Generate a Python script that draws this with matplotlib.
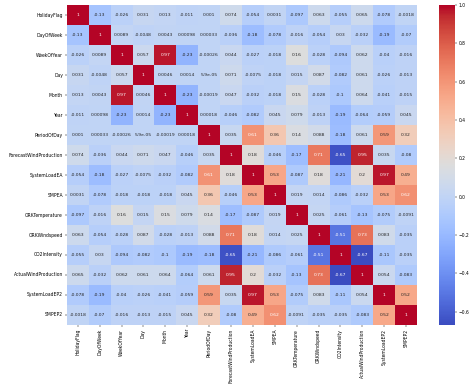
import numpy as np
import pandas as pd
import matplotlib
matplotlib.use("Agg")
import matplotlib.pyplot as plt
import seaborn as sns

# Noms des variables
cols = ["HolidayFlag", "DayOfWeek", "WeekOfYear", "Day", "Month", "Year",
        "PeriodOfDay", "ForecastWindProduction", "SystemLoadEA", "SMPEA",
        "ORKTemperature", "ORKWindspeed", "CO2Intensity",
        "ActualWindProduction", "SystemLoadEP2", "SMPEP2"]

# Matrice de corrélation
corr_values = [
    [1, -0.13, -0.026, 0.031, 0.013, -0.011, 0.001, 0.074, -0.054, 0.0031, -0.097, 0.063, -0.055, 0.065, -0.078, -0.0018],
    [-0.13, 1, 0.0089, -0.0048, 0.0043, 0.00098, 0.00033, -0.036, -0.18, -0.078, -0.016, -0.054, 0.03, -0.032, -0.19, -0.07],
    [-0.026, 0.0089, 1, 0.057, 0.97, -0.23, -0.00026, 0.044, -0.027, -0.018, 0.16, -0.028, -0.094, 0.062, -0.04, -0.016],
    [0.031, -0.0048, 0.057, 1, 0.0046, 0.0014, 5.9e-05, 0.071, -0.0075, -0.018, 0.015, 0.087, -0.082, 0.061, -0.026, -0.013],
    [0.013, 0.0043, 0.97, 0.0046, 1, -0.23, -0.00019, 0.047, -0.032, -0.018, 0.15, -0.028, -0.1, 0.064, -0.041, -0.015],
    [-0.011, 0.00098, -0.23, 0.0014, -0.23, 1, 0.00018, -0.046, -0.082, 0.045, 0.079, -0.013, -0.19, -0.064, -0.059, 0.045],
    [0.001, 0.00033, -0.00026, 5.9e-05, -0.00019, 0.00018, 1, 0.035, 0.61, 0.36, 0.14, 0.088, -0.18, 0.061, 0.59, 0.32],
    [0.074, -0.036, 0.044, 0.071, 0.047, -0.046, 0.035, 1, 0.18, -0.046, -0.17, 0.71, -0.65, 0.95, 0.035, -0.08],
    [-0.054, -0.18, -0.027, -0.0075, -0.032, -0.082, 0.61, 0.18, 1, 0.53, -0.087, 0.18, -0.21, 0.2, 0.97, 0.49],
    [0.0031, -0.078, -0.018, -0.018, -0.018, 0.045, 0.36, -0.046, 0.53, 1, 0.019, 0.014, -0.086, -0.032, 0.53, 0.62],
    [-0.097, -0.016, 0.16, 0.015, 0.15, 0.079, 0.14, -0.17, -0.087, 0.019, 1, 0.025, -0.061, -0.13, -0.075, -0.0091],
    [0.063, -0.054, -0.028, 0.087, -0.028, -0.013, 0.088, 0.71, 0.18, 0.014, 0.025, 1, -0.51, 0.73, 0.083, -0.035],
    [-0.055, 0.03, -0.094, -0.082, -0.1, -0.19, -0.18, -0.65, -0.21, -0.086, -0.061, -0.51, 1, -0.67, -0.11, -0.035],
    [0.065, -0.032, 0.062, 0.061, 0.064, -0.064, 0.061, 0.95, 0.2, -0.032, -0.13, 0.73, -0.67, 1, 0.054, -0.083],
    [-0.078, -0.19, -0.04, -0.026, -0.041, -0.059, 0.59, 0.035, 0.97, 0.53, -0.075, 0.083, -0.11, 0.054, 1, 0.52],
    [-0.0018, -0.07, -0.016, -0.013, -0.015, 0.045, 0.32, -0.08, 0.49, 0.62, -0.0091, -0.035, -0.035, -0.083, 0.52, 1],
]

corr = pd.DataFrame(np.array(corr_values), index=cols, columns=cols)

fig = plt.figure(figsize=(474 / 40, 392 / 40), dpi=40)
ax = fig.add_axes([0.141, 0.171, 0.739, 0.816])
cax = fig.add_axes([0.926, 0.171, 0.034, 0.816])

sns.heatmap(corr, annot=True, annot_kws={"fontsize": 8}, cmap="coolwarm",
            ax=ax, cbar_ax=cax)
ax.tick_params(labelsize=8.2)
cax.tick_params(labelsize=8.2)

fig.savefig("out.png", dpi=40)
